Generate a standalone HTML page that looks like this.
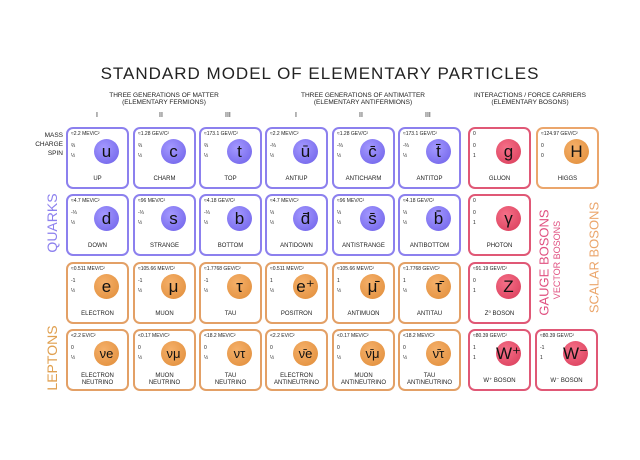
<!DOCTYPE html><html><head><meta charset="utf-8"><style>
body{margin:0;width:640px;height:460px;background:#fff;position:relative;overflow:hidden;font-family:"Liberation Sans","DejaVu Sans",sans-serif;color:#222}
.a{position:absolute}
.c{position:absolute;width:59px;height:58px;border:2px solid;border-radius:7px;background:#fff}
.q{border-color:#8c80ee}.l{border-color:#e3a066}.b{border-color:#e05876}.h{border-color:#eba66c}
.m{position:absolute;left:3px;top:2px;font-size:5px;white-space:nowrap}
.v1{position:absolute;left:3px;top:14px;font-size:5px}.v2{position:absolute;left:3px;top:24px;font-size:5px}
.o{position:absolute;left:26px;top:10px;width:25px;height:25px;border-radius:50%;text-align:center;line-height:25px;font-size:17px;color:#111}
.q .o{background:radial-gradient(circle at 40% 35%,#a499ff,#6c5fe8)}
.l .o,.h .o{background:radial-gradient(circle at 40% 35%,#f5b06a,#e08c38)}
.b .o{background:radial-gradient(circle at 40% 35%,#f57088,#d83a58)}
.n{position:absolute;left:0;width:59px;top:42px;text-align:center;font-size:6px;line-height:6.5px}
.vt{position:absolute;transform:rotate(-90deg);transform-origin:center;white-space:nowrap;text-align:center}
</style></head><body>
<div class="a" style="left:0;width:640px;top:64px;text-align:center;font-size:17px;letter-spacing:1px;font-weight:300">STANDARD MODEL OF ELEMENTARY PARTICLES</div>
<div class="a" style="left:66px;width:196px;top:93px;text-align:center;font-size:6.5px;line-height:6.5px">THREE GENERATIONS OF MATTER<br>(ELEMENTARY FERMIONS)</div>
<div class="a" style="left:265px;width:196px;top:93px;text-align:center;font-size:6.5px;line-height:6.5px">THREE GENERATIONS OF ANTIMATTER<br>(ELEMENTARY ANTIFERMIONS)</div>
<div class="a" style="left:455px;width:150px;top:93px;text-align:center;font-size:6.5px;line-height:6.5px">INTERACTIONS / FORCE CARRIERS<br>(ELEMENTARY BOSONS)</div>
<div class="a" style="left:96px;top:112px;font-size:7px">I</div><div class="a" style="left:159px;top:112px;font-size:7px">II</div><div class="a" style="left:225px;top:112px;font-size:7px">III</div>
<div class="a" style="left:295px;top:112px;font-size:7px">I</div><div class="a" style="left:359px;top:112px;font-size:7px">II</div><div class="a" style="left:425px;top:112px;font-size:7px">III</div>
<div class="a" style="left:30px;width:33px;top:131px;text-align:right;font-size:6.5px;line-height:9px">MASS<br>CHARGE<br>SPIN</div>
<div class="vt" style="left:12px;top:215px;width:80px;font-size:14px;color:#8c80ee">QUARKS</div>
<div class="vt" style="left:12px;top:350px;width:80px;font-size:14px;color:#e0a050">LEPTONS</div>
<div class="vt" style="left:484px;top:255px;width:120px;font-size:13px;color:#e05080">GAUGE BOSONS</div>
<div class="vt" style="left:497px;top:255px;width:120px;font-size:9px;color:#e05080">VECTOR BOSONS</div>
<div class="vt" style="left:534px;top:250px;width:120px;font-size:13px;color:#eba66c">SCALAR BOSONS</div>

<div class="c q" style="left:66px;top:127px"><div class="m">≈2.2 MEV/C²</div><div class="v1">⅔</div><div class="v2">½</div><div class="o">u</div><div class="n" style="top:47px">UP</div></div>
<div class="c q" style="left:133px;top:127px"><div class="m">≈1.28 GEV/C²</div><div class="v1">⅔</div><div class="v2">½</div><div class="o">c</div><div class="n" style="top:47px">CHARM</div></div>
<div class="c q" style="left:199px;top:127px"><div class="m">≈173.1 GEV/C²</div><div class="v1">⅔</div><div class="v2">½</div><div class="o">t</div><div class="n" style="top:47px">TOP</div></div>
<div class="c q" style="left:265px;top:127px"><div class="m">≈2.2 MEV/C²</div><div class="v1">-⅔</div><div class="v2">½</div><div class="o">ū</div><div class="n" style="top:47px">ANTIUP</div></div>
<div class="c q" style="left:332px;top:127px"><div class="m">≈1.28 GEV/C²</div><div class="v1">-⅔</div><div class="v2">½</div><div class="o">c̄</div><div class="n" style="top:47px">ANTICHARM</div></div>
<div class="c q" style="left:398px;top:127px"><div class="m">≈173.1 GEV/C²</div><div class="v1">-⅔</div><div class="v2">½</div><div class="o">t̄</div><div class="n" style="top:47px">ANTITOP</div></div>
<div class="c b" style="left:468px;top:127px"><div class="m">0</div><div class="v1">0</div><div class="v2">1</div><div class="o">g</div><div class="n" style="top:47px">GLUON</div></div>
<div class="c h" style="left:536px;top:127px"><div class="m">≈124.97 GEV/C²</div><div class="v1">0</div><div class="v2">0</div><div class="o">H</div><div class="n" style="top:47px">HIGGS</div></div>

<div class="c q" style="left:66px;top:194px"><div class="m">≈4.7 MEV/C²</div><div class="v1">-⅓</div><div class="v2">½</div><div class="o">d</div><div class="n" style="top:47px">DOWN</div></div>
<div class="c q" style="left:133px;top:194px"><div class="m">≈96 MEV/C²</div><div class="v1">-⅓</div><div class="v2">½</div><div class="o">s</div><div class="n" style="top:47px">STRANGE</div></div>
<div class="c q" style="left:199px;top:194px"><div class="m">≈4.18 GEV/C²</div><div class="v1">-⅓</div><div class="v2">½</div><div class="o">b</div><div class="n" style="top:47px">BOTTOM</div></div>
<div class="c q" style="left:265px;top:194px"><div class="m">≈4.7 MEV/C²</div><div class="v1">⅓</div><div class="v2">½</div><div class="o">d̄</div><div class="n" style="top:47px">ANTIDOWN</div></div>
<div class="c q" style="left:332px;top:194px"><div class="m">≈96 MEV/C²</div><div class="v1">⅓</div><div class="v2">½</div><div class="o">s̄</div><div class="n" style="top:47px">ANTISTRANGE</div></div>
<div class="c q" style="left:398px;top:194px"><div class="m">≈4.18 GEV/C²</div><div class="v1">⅓</div><div class="v2">½</div><div class="o">b̄</div><div class="n" style="top:47px">ANTIBOTTOM</div></div>
<div class="c b" style="left:468px;top:194px"><div class="m">0</div><div class="v1">0</div><div class="v2">1</div><div class="o">γ</div><div class="n" style="top:47px">PHOTON</div></div>

<div class="c l" style="left:66px;top:262px"><div class="m">≈0.511 MEV/C²</div><div class="v1">-1</div><div class="v2">½</div><div class="o">e</div><div class="n" style="top:47px">ELECTRON</div></div>
<div class="c l" style="left:133px;top:262px"><div class="m">≈105.66 MEV/C²</div><div class="v1">-1</div><div class="v2">½</div><div class="o">μ</div><div class="n" style="top:47px">MUON</div></div>
<div class="c l" style="left:199px;top:262px"><div class="m">≈1.7768 GEV/C²</div><div class="v1">-1</div><div class="v2">½</div><div class="o">τ</div><div class="n" style="top:47px">TAU</div></div>
<div class="c l" style="left:265px;top:262px"><div class="m">≈0.511 MEV/C²</div><div class="v1">1</div><div class="v2">½</div><div class="o">e⁺</div><div class="n" style="top:47px">POSITRON</div></div>
<div class="c l" style="left:332px;top:262px"><div class="m">≈105.66 MEV/C²</div><div class="v1">1</div><div class="v2">½</div><div class="o">μ̄</div><div class="n" style="top:47px">ANTIMUON</div></div>
<div class="c l" style="left:398px;top:262px"><div class="m">≈1.7768 GEV/C²</div><div class="v1">1</div><div class="v2">½</div><div class="o">τ̄</div><div class="n" style="top:47px">ANTITAU</div></div>
<div class="c b" style="left:468px;top:262px"><div class="m">≈91.19 GEV/C²</div><div class="v1">0</div><div class="v2">1</div><div class="o">Z</div><div class="n" style="top:47px">Z⁰ BOSON</div></div>

<div class="c l" style="left:66px;top:329px"><div class="m">&lt;2.2 EV/C²</div><div class="v1">0</div><div class="v2">½</div><div class="o" style="font-size:13px">νe</div><div class="n">ELECTRON<br>NEUTRINO</div></div>
<div class="c l" style="left:133px;top:329px"><div class="m">&lt;0.17 MEV/C²</div><div class="v1">0</div><div class="v2">½</div><div class="o" style="font-size:13px">νμ</div><div class="n">MUON<br>NEUTRINO</div></div>
<div class="c l" style="left:199px;top:329px"><div class="m">&lt;18.2 MEV/C²</div><div class="v1">0</div><div class="v2">½</div><div class="o" style="font-size:13px">ντ</div><div class="n">TAU<br>NEUTRINO</div></div>
<div class="c l" style="left:265px;top:329px"><div class="m">&lt;2.2 EV/C²</div><div class="v1">0</div><div class="v2">½</div><div class="o" style="font-size:13px">ν̄e</div><div class="n">ELECTRON<br>ANTINEUTRINO</div></div>
<div class="c l" style="left:332px;top:329px"><div class="m">&lt;0.17 MEV/C²</div><div class="v1">0</div><div class="v2">½</div><div class="o" style="font-size:13px">ν̄μ</div><div class="n">MUON<br>ANTINEUTRINO</div></div>
<div class="c l" style="left:398px;top:329px"><div class="m">&lt;18.2 MEV/C²</div><div class="v1">0</div><div class="v2">½</div><div class="o" style="font-size:13px">ν̄τ</div><div class="n">TAU<br>ANTINEUTRINO</div></div>
<div class="c b" style="left:468px;top:329px"><div class="m">≈80.39 GEV/C²</div><div class="v1">1</div><div class="v2">1</div><div class="o">W⁺</div><div class="n" style="top:47px">W⁺ BOSON</div></div>
<div class="c b" style="left:535px;top:329px"><div class="m">≈80.39 GEV/C²</div><div class="v1">-1</div><div class="v2">1</div><div class="o">W⁻</div><div class="n" style="top:47px">W⁻ BOSON</div></div>
</body></html>
